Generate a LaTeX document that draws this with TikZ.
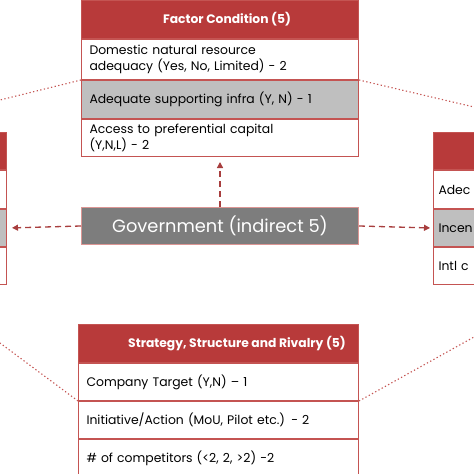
\documentclass[tikz,border=0pt]{standalone}
\usepackage{fontspec}
\setmainfont{Poppins}
\usetikzlibrary{arrows.meta}
\usetikzlibrary{positioning}
\definecolor{hdrred}{RGB}{184,58,58}
\definecolor{boxline}{RGB}{196,84,82}
\definecolor{rowgray}{RGB}{191,191,191}
\definecolor{govgray}{RGB}{125,125,125}
\definecolor{govline}{RGB}{220,150,148}
\definecolor{arrowred}{RGB}{168,62,62}

\tikzset{
  hdr/.style={fill=hdrred, draw=boxline, line width=1pt, inner sep=0pt},
  hdrtext/.style={text=white, font=\bfseries\fontsize{12.3}{14}\selectfont, inner sep=0pt},
  cell/.style={fill=white, draw=boxline, line width=1pt, text width=261pt, align=left,
    inner xsep=8pt, inner ysep=0pt, font=\fontsize{12.4}{16.5}\selectfont},
  shaded/.style={cell, fill=rowgray},
  scell/.style={cell, text width=264pt},
  gov/.style={fill=govgray, draw=govline, line width=1pt, text=white,
    font=\fontsize{17.8}{20}\selectfont},
  link/.style={arrowred, line width=1.3pt, dash pattern=on 6pt off 4pt,
    -{Triangle[length=6pt, width=6pt]}},
  porter/.style={boxline, line width=1.1pt, dash pattern=on 1.3pt off 2.4pt}
}

\begin{document}
\begin{tikzpicture}[x=1pt, y=-1pt]
  \useasboundingbox (0,0) rectangle (474,474);
  \clip (0,0) rectangle (474,474);

  % factor condition (top)
  \node[hdr, minimum width=277pt, minimum height=38pt, anchor=north west] (fhdr) at (81,0) {};
  \node[hdrtext, xshift=7pt] (ftitle) at (fhdr) {Factor Condition (5)};
  \node[cell, minimum height=40pt, below=0pt of fhdr] (frow1) {Domestic natural resource\\adequacy (Yes, No, Limited) - 2};
  \node[shaded, minimum height=38pt, below=0pt of frow1] (frow2) {Adequate supporting infra (Y, N) - 1};
  \node[cell, minimum height=37pt, below=0pt of frow2] (frow3) {Access to preferential capital\\(Y,N,L) - 2};

  % left box, cut off by the edge
  \node[hdr, minimum width=207pt, minimum height=37pt, anchor=north east] (lhdr) at (7,132) {};
  \node[cell, text width=191pt, minimum height=38pt, below=0pt of lhdr] (lrow1) {};
  \node[shaded, text width=191pt, minimum height=37pt, below=0pt of lrow1] (lrow2) {};
  \node[cell, text width=191pt, minimum height=37pt, below=0pt of lrow2] (lrow3) {};

  % right box, cut off by the edge
  \node[hdr, minimum width=200pt, minimum height=37pt, anchor=north west] (rhdr) at (433,132) {};
  \node[cell, text width=190pt, inner xsep=5pt, minimum height=38pt, below=0pt of rhdr] (rrow1) {Adec};
  \node[shaded, text width=190pt, inner xsep=5pt, minimum height=37pt, below=0pt of rrow1] (rrow2) {Incen};
  \node[cell, text width=190pt, inner xsep=5pt, minimum height=37pt, below=0pt of rrow2] (rrow3) {Intl c};

  % government
  \node[gov, minimum width=277pt, minimum height=37pt, anchor=north west] (gov) at (81,207) {Government (indirect 5)};

  % strategy, structure and rivalry (bottom)
  \node[hdr, minimum width=280pt, minimum height=38pt, anchor=north west] (shdr) at (78,324) {};
  \node[hdrtext, anchor=east] (stitle) at ([xshift=-13pt]shdr.east) {Strategy, Structure and Rivalry (5)};
  \node[scell, minimum height=37pt, below=0pt of shdr] (srow1) {Company Target (Y,N) -- 1};
  \node[scell, minimum height=37pt, below=0pt of srow1] (srow2) {Initiative/Action (MoU, Pilot etc.) - 2};
  \node[scell, minimum height=38pt, below=0pt of srow2] (srow3) {\# of competitors (<2, 2, >2) -2};

  % diamond links
  \coordinate (tl) at (0,100);
  \coordinate (tr) at (474,107);
  \coordinate (bl) at (0,343);
  \coordinate (br) at (474,337);
  \draw[porter] (frow1.south west) -- (tl);
  \draw[porter] (frow1.south east) -- (tr);
  \draw[porter] (srow1.south west) -- (bl);
  \draw[porter] (srow1.south east) -- (br);

  % government arrows
  \draw[link, shorten >=5pt] (gov.north) -- (frow3.south);
  \draw[link, shorten >=5pt] (gov.west) -- (lrow2.east);
  \draw[link, shorten >=3pt] (gov.east) -- (rrow2.west);
\end{tikzpicture}
\end{document}
